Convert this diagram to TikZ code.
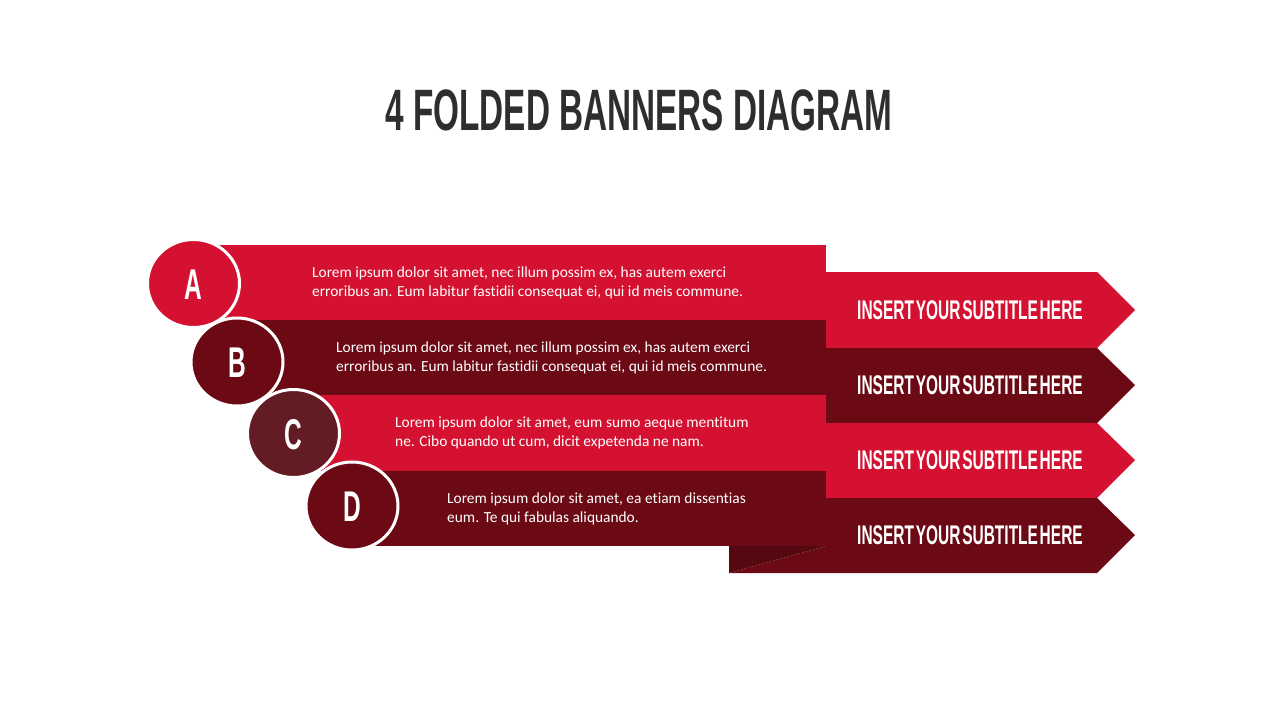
\documentclass[tikz,border=0pt]{standalone}
\usepackage{fontspec}
\setmainfont{Carlito}[Ligatures=NoCommon]
\newfontfamily\headfont[FakeStretch=0.57]{Liberation Sans}
\newfontfamily\subfont[FakeStretch=0.574, WordSpace=0.4]{Liberation Sans}
\usetikzlibrary{shapes.geometric}

\definecolor{bannerred}{HTML}{D41130}
\definecolor{bannerdark}{HTML}{6B0A14}
\definecolor{badgebrown}{HTML}{641C24}
\definecolor{foldshade}{HTML}{550810}
\definecolor{titlegray}{HTML}{2E2E2E}

\begin{document}
\begin{tikzpicture}[
    x=1pt, y=-1pt,
    badge/.style={
        ellipse,
        draw=white,
        line width=3pt,
        minimum width=92pt,
        minimum height=88pt,
        inner sep=0pt,
        text=white,
        font=\headfont\bfseries\fontsize{43}{43}\selectfont,
        text height=31pt,
        text depth=0pt,
    },
    lorem/.style={
        anchor=west,
        inner sep=0pt,
        align=left,
        text=white,
        font=\fontsize{15.4}{19}\selectfont,
    },
    subtitle/.style={
        inner sep=0pt,
        text=white,
        font=\subfont\bfseries\fontsize{27}{27}\selectfont,
        text height=19.5pt,
        text depth=0pt,
    }
]
    \useasboundingbox (0,0) rectangle (1280,720);

    % Title
    \node[text=titlegray, inner sep=0pt, text height=42pt, text depth=0pt,
          font=\headfont\bfseries\fontsize{58.4}{58.4}\selectfont]
        (title) at (639,109) {4 FOLDED BANNERS DIAGRAM};

    % Right arrows
    \fill[bannerred]  (826,272) -- (1097,272) -- (1135,310) -- (1097,348) -- (826,348) -- cycle;
    \fill[bannerdark] (826,348) -- (1097,348) -- (1135,385) -- (1097,423) -- (826,423) -- cycle;
    \fill[bannerred]  (826,423) -- (1097,423) -- (1135,460) -- (1097,498) -- (826,498) -- cycle;
    \fill[bannerdark] (826,498) -- (1097,498) -- (1135,535) -- (1097,573) -- (729,573) -- (826,546) -- cycle;
    \fill[foldshade]  (729,546) -- (826,546) -- (729,573) -- cycle;

    \node[subtitle] (sub1) at (970,310) {INSERT YOUR SUBTITLE HERE};
    \node[subtitle] (sub2) at (970,385) {INSERT YOUR SUBTITLE HERE};
    \node[subtitle] (sub3) at (970,460) {INSERT YOUR SUBTITLE HERE};
    \node[subtitle] (sub4) at (970,535) {INSERT YOUR SUBTITLE HERE};

    % Left banners
    \fill[bannerred]  (193,245) rectangle (826,320);
    \fill[bannerdark] (237,320) rectangle (826,395);
    \fill[bannerred]  (293,395) rectangle (826,471);
    \fill[bannerdark] (352,471) rectangle (826,546);

    \node[lorem] (textA) at (312,282.5) {Lorem ipsum dolor sit amet, nec illum possim ex, has autem exerci\\erroribus an. Eum labitur fastidii consequat ei, qui id meis commune.};
    \node[lorem] (textB) at (336,357.5) {Lorem ipsum dolor sit amet, nec illum possim ex, has autem exerci\\erroribus an. Eum labitur fastidii consequat ei, qui id meis commune.};
    \node[lorem] (textC) at (395,433) {Lorem ipsum dolor sit amet, eum sumo aeque mentitum\\ne. Cibo quando ut cum, dicit expetenda ne nam.};
    \node[lorem] (textD) at (447,508.5) {Lorem ipsum dolor sit amet, ea etiam dissentias\\eum. Te qui fabulas aliquando.};

    % Letter badges
    \node[badge, fill=bannerred]  (badgeA) at (193.5,283.5) {A};
    \node[badge, fill=bannerdark] (badgeB) at (237,362) {B};
    \node[badge, fill=badgebrown] (badgeC) at (293.5,433.5) {C};
    \node[badge, fill=bannerdark] (badgeD) at (352,506) {D};
\end{tikzpicture}
\end{document}
